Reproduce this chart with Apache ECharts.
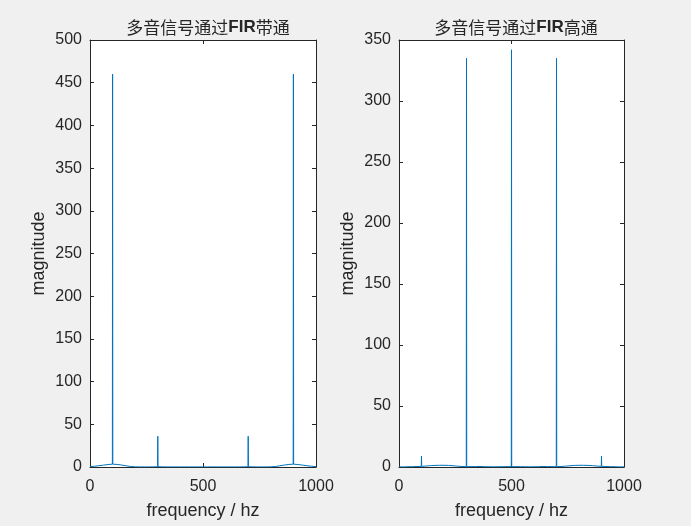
<!DOCTYPE html>
<html>
<head>
<meta charset="utf-8">
<script src="https://cdn.jsdelivr.net/npm/echarts@6/dist/echarts.min.js"></script>
<style>
  html, body { margin: 0; padding: 0; background: #f0f0f0; }
  #main { width: 691px; height: 526px; }
</style>
</head>
<body>
<div id="main"></div>
<script>
// frequency points (hz)
const freqs = [0, 20, 40, 60, 80, 99, 100, 101, 120, 140, 160, 180, 200, 220, 240, 260, 280,
  299, 300, 301, 320, 340, 360, 380, 400, 420, 440, 460, 480, 499, 500, 501,
  520, 540, 560, 580, 600, 620, 640, 660, 680, 699, 700, 701,
  720, 740, 760, 780, 800, 820, 840, 860, 880, 899, 900, 901, 920, 940, 960, 980, 1000]

// 多音信号通过FIR带通
const bandpassMag = [0.4, 0.9, 1.5, 2.2, 2.9, 3.3, 460, 3.3, 3.0, 2.3, 1.4, 0.6, 0.2, 0.1, 0.1, 0.1, 0.2,
  0.3, 36, 0.3, 0.2, 0.1, 0.1, 0.1, 0.1, 0.1, 0.1, 0.1, 0.1, 0.1, 0.2, 0.1,
  0.1, 0.1, 0.1, 0.1, 0.1, 0.1, 0.1, 0.1, 0.2, 0.3, 36, 0.3,
  0.2, 0.1, 0.1, 0.1, 0.2, 0.6, 1.4, 2.3, 3.0, 3.3, 460, 3.3, 2.9, 2.2, 1.5, 0.9, 0.4]

// 多音信号通过FIR高通
const highpassMag = [0.1, 0.1, 0.2, 0.3, 0.4, 0.5, 9, 0.5, 0.8, 1.1, 1.3, 1.4, 1.4, 1.3, 1.0, 0.7, 0.4,
  0.3, 335, 0.3, 0.3, 0.4, 0.4, 0.3, 0.2, 0.2, 0.2, 0.3, 0.3, 0.3, 342, 0.3,
  0.3, 0.3, 0.2, 0.2, 0.2, 0.3, 0.4, 0.4, 0.3, 0.3, 335, 0.3,
  0.4, 0.7, 1.0, 1.3, 1.4, 1.4, 1.3, 1.1, 0.8, 0.5, 9, 0.5, 0.4, 0.3, 0.2, 0.1, 0.1]

const xTicks = [0, 500, 1000]
const bandpassYMax = 500
const highpassYMax = 350

const axisColor = '#262626'
const lineColor = '#0072BD'
const font = 'Liberation Sans, Arial, sans-serif'

function pairs (mags) {
  return freqs.map((f, i) => [f, mags[i]])
}

function xAxes (gridIndex) {
  const base = {
    type: 'value',
    gridIndex: gridIndex,
    min: xTicks[0],
    max: xTicks[xTicks.length - 1],
    interval: xTicks[1] - xTicks[0],
    splitLine: { show: false },
    axisLine: { show: true, onZero: false, lineStyle: { color: axisColor, width: 1 } },
    axisTick: { show: true, inside: true, length: 4, lineStyle: { color: axisColor } }
  }
  return [
    Object.assign({}, base, {
      position: 'bottom',
      name: 'frequency / hz',
      nameLocation: 'middle',
      nameGap: 35,
      nameTextStyle: { color: axisColor, fontSize: 18, fontFamily: font },
      axisLabel: { color: axisColor, fontSize: 16, fontFamily: font, margin: 12, formatter: v => String(v) }
    }),
    Object.assign({}, base, { position: 'top', axisLabel: { show: false } })
  ]
}

function yAxes (gridIndex, max) {
  const base = {
    type: 'value',
    gridIndex: gridIndex,
    min: 0,
    max: max,
    interval: 50,
    splitLine: { show: false },
    axisLine: { show: true, onZero: false, lineStyle: { color: axisColor, width: 1 } },
    axisTick: { show: true, inside: true, length: 4, lineStyle: { color: axisColor } }
  }
  return [
    Object.assign({}, base, {
      position: 'left',
      name: 'magnitude',
      nameLocation: 'middle',
      nameGap: 42,
      nameTextStyle: { color: axisColor, fontSize: 18, fontFamily: font },
      axisLabel: { color: axisColor, fontSize: 16, fontFamily: font, margin: 8, formatter: v => String(v) }
    }),
    Object.assign({}, base, { position: 'right', axisLabel: { show: false } })
  ]
}

function titleOf (left, pre, tail) {
  return {
    left: left,
    top: 14,
    textAlign: 'center',
    text: '{a|' + pre + '}{b|FIR}{a|' + tail + '}',
    textStyle: {
      rich: {
        a: { fontSize: 17, color: axisColor, fontWeight: 'normal', fontFamily: 'Noto Sans CJK SC' },
        b: { fontSize: 17, color: axisColor, fontWeight: 'bold', fontFamily: font }
      }
    }
  }
}

const chart = echarts.init(document.getElementById('main'))
const option = {
  backgroundColor: '#f0f0f0',
  animation: false,
  title: [
    titleOf(203, '多音信号通过', '带通'),
    titleOf(511, '多音信号通过', '高通')
  ],
  grid: [
    { left: 90, top: 40, width: 226, height: 427, show: true, backgroundColor: '#fff', borderWidth: 0 },
    { left: 399, top: 40, width: 225, height: 427, show: true, backgroundColor: '#fff', borderWidth: 0 }
  ],
  xAxis: xAxes(0).concat(xAxes(1)),
  yAxis: yAxes(0, bandpassYMax).concat(yAxes(1, highpassYMax)),
  series: [
    {
      name: '带通',
      type: 'line',
      xAxisIndex: 0,
      yAxisIndex: 0,
      showSymbol: false,
      symbol: 'none',
      lineStyle: { color: lineColor, width: 1 },
      data: pairs(bandpassMag)
    },
    {
      name: '高通',
      type: 'line',
      xAxisIndex: 2,
      yAxisIndex: 2,
      showSymbol: false,
      symbol: 'none',
      lineStyle: { color: lineColor, width: 1 },
      data: pairs(highpassMag)
    }
  ]
}
chart.setOption(option)
</script>
</body>
</html>
